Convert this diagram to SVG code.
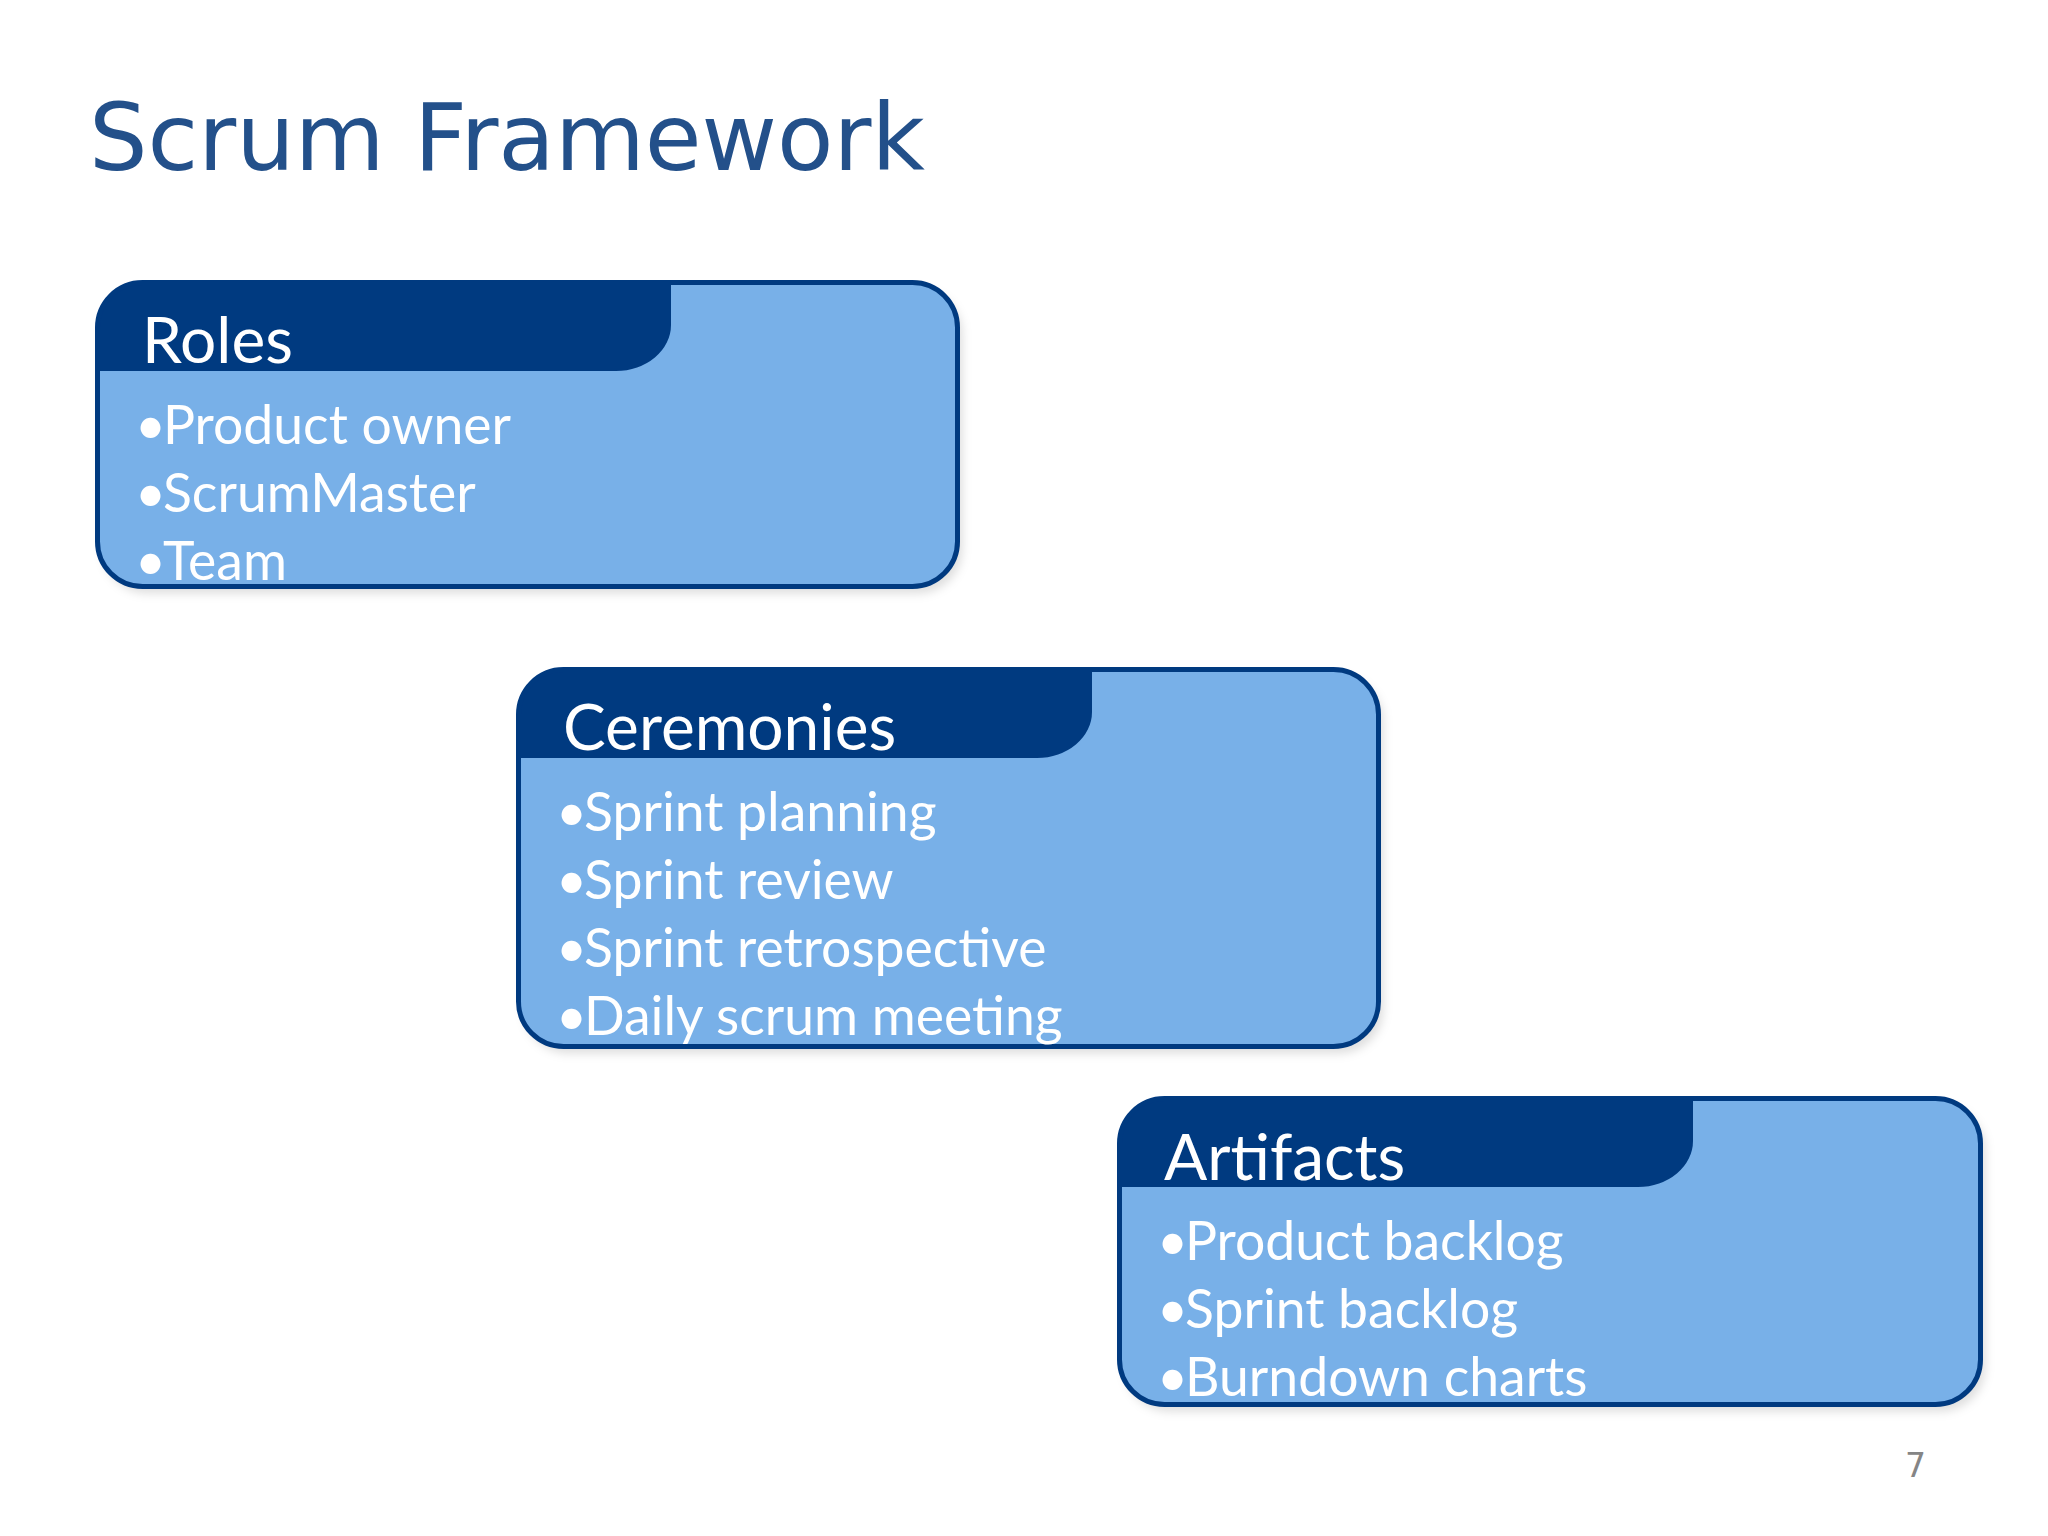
<svg xmlns="http://www.w3.org/2000/svg" width="2048" height="1536" viewBox="0 0 2048 1536">
<defs>
<filter id="sh" x="-5%" y="-5%" width="115%" height="125%">
<feDropShadow dx="5" dy="7" stdDeviation="5" flood-color="#000" flood-opacity="0.13"/>
</filter>
<style>
.body{fill:#78b0e8;}
.tab{fill:#003a80;}
.edge{fill:none;stroke:#003a80;stroke-width:5;}
.head{font-family:Lato,"Open Sans",sans-serif;font-size:64px;fill:#ffffff;}
.item{font-family:Lato,"Open Sans",sans-serif;font-size:53.5px;fill:#ffffff;}
.title{font-family:"DejaVu Sans",Verdana,sans-serif;font-size:92.3px;fill:#23508a;}
.page{font-family:"DejaVu Sans",sans-serif;font-size:33px;fill:#858585;}
</style>
</defs>
<rect width="2048" height="1536" fill="#ffffff"/>
<text class="title" x="89" y="170">Scrum Framework</text>
<g id="roles" transform="translate(95,280)">
<rect class="body" x="2.5" y="2.5" width="860" height="304" rx="45" filter="url(#sh)"/>
<path class="tab" d="M2.5,47.5 A45,45 0 0 1 47.5,2.5 H576 V45 A55,46 0 0 1 521,91 H2.5 Z"/>
<rect class="edge" x="2.5" y="2.5" width="860" height="304" rx="45"/>
<text class="head" x="47" y="83">Roles</text>
<text class="item" x="40" y="164">•</text><text class="item" x="68" y="164">Product owner</text>
<text class="item" x="40" y="232">•</text><text class="item" x="68" y="232">ScrumMaster</text>
<text class="item" x="40" y="300">•</text><text class="item" x="68" y="300">Team</text>
</g>
<g id="ceremonies" transform="translate(516,667)">
<rect class="body" x="2.5" y="2.5" width="860" height="377" rx="45" filter="url(#sh)"/>
<path class="tab" d="M2.5,47.5 A45,45 0 0 1 47.5,2.5 H576 V45 A55,46 0 0 1 521,91 H2.5 Z"/>
<rect class="edge" x="2.5" y="2.5" width="860" height="377" rx="45"/>
<text class="head" x="47" y="83">Ceremonies</text>
<text class="item" x="40" y="164">•</text><text class="item" x="68" y="164">Sprint planning</text>
<text class="item" x="40" y="232">•</text><text class="item" x="68" y="232">Sprint review</text>
<text class="item" x="40" y="300">•</text><text class="item" x="68" y="300">Sprint retrospective</text>
<text class="item" x="40" y="368">•</text><text class="item" x="68" y="368">Daily scrum meeting</text>
</g>
<g id="artifacts" transform="translate(1117,1096)">
<rect class="body" x="2.5" y="2.5" width="861" height="306" rx="45" filter="url(#sh)"/>
<path class="tab" d="M2.5,47.5 A45,45 0 0 1 47.5,2.5 H576 V45 A55,46 0 0 1 521,91 H2.5 Z"/>
<rect class="edge" x="2.5" y="2.5" width="861" height="306" rx="45"/>
<text class="head" x="47" y="84">Artifacts</text>
<text class="item" x="40" y="164">•</text><text class="item" x="68" y="164">Product backlog</text>
<text class="item" x="40" y="232">•</text><text class="item" x="68" y="232">Sprint backlog</text>
<text class="item" x="40" y="300">•</text><text class="item" x="68" y="300">Burndown charts</text>
</g>
<text class="page" x="1905" y="1477">7</text>
</svg>
